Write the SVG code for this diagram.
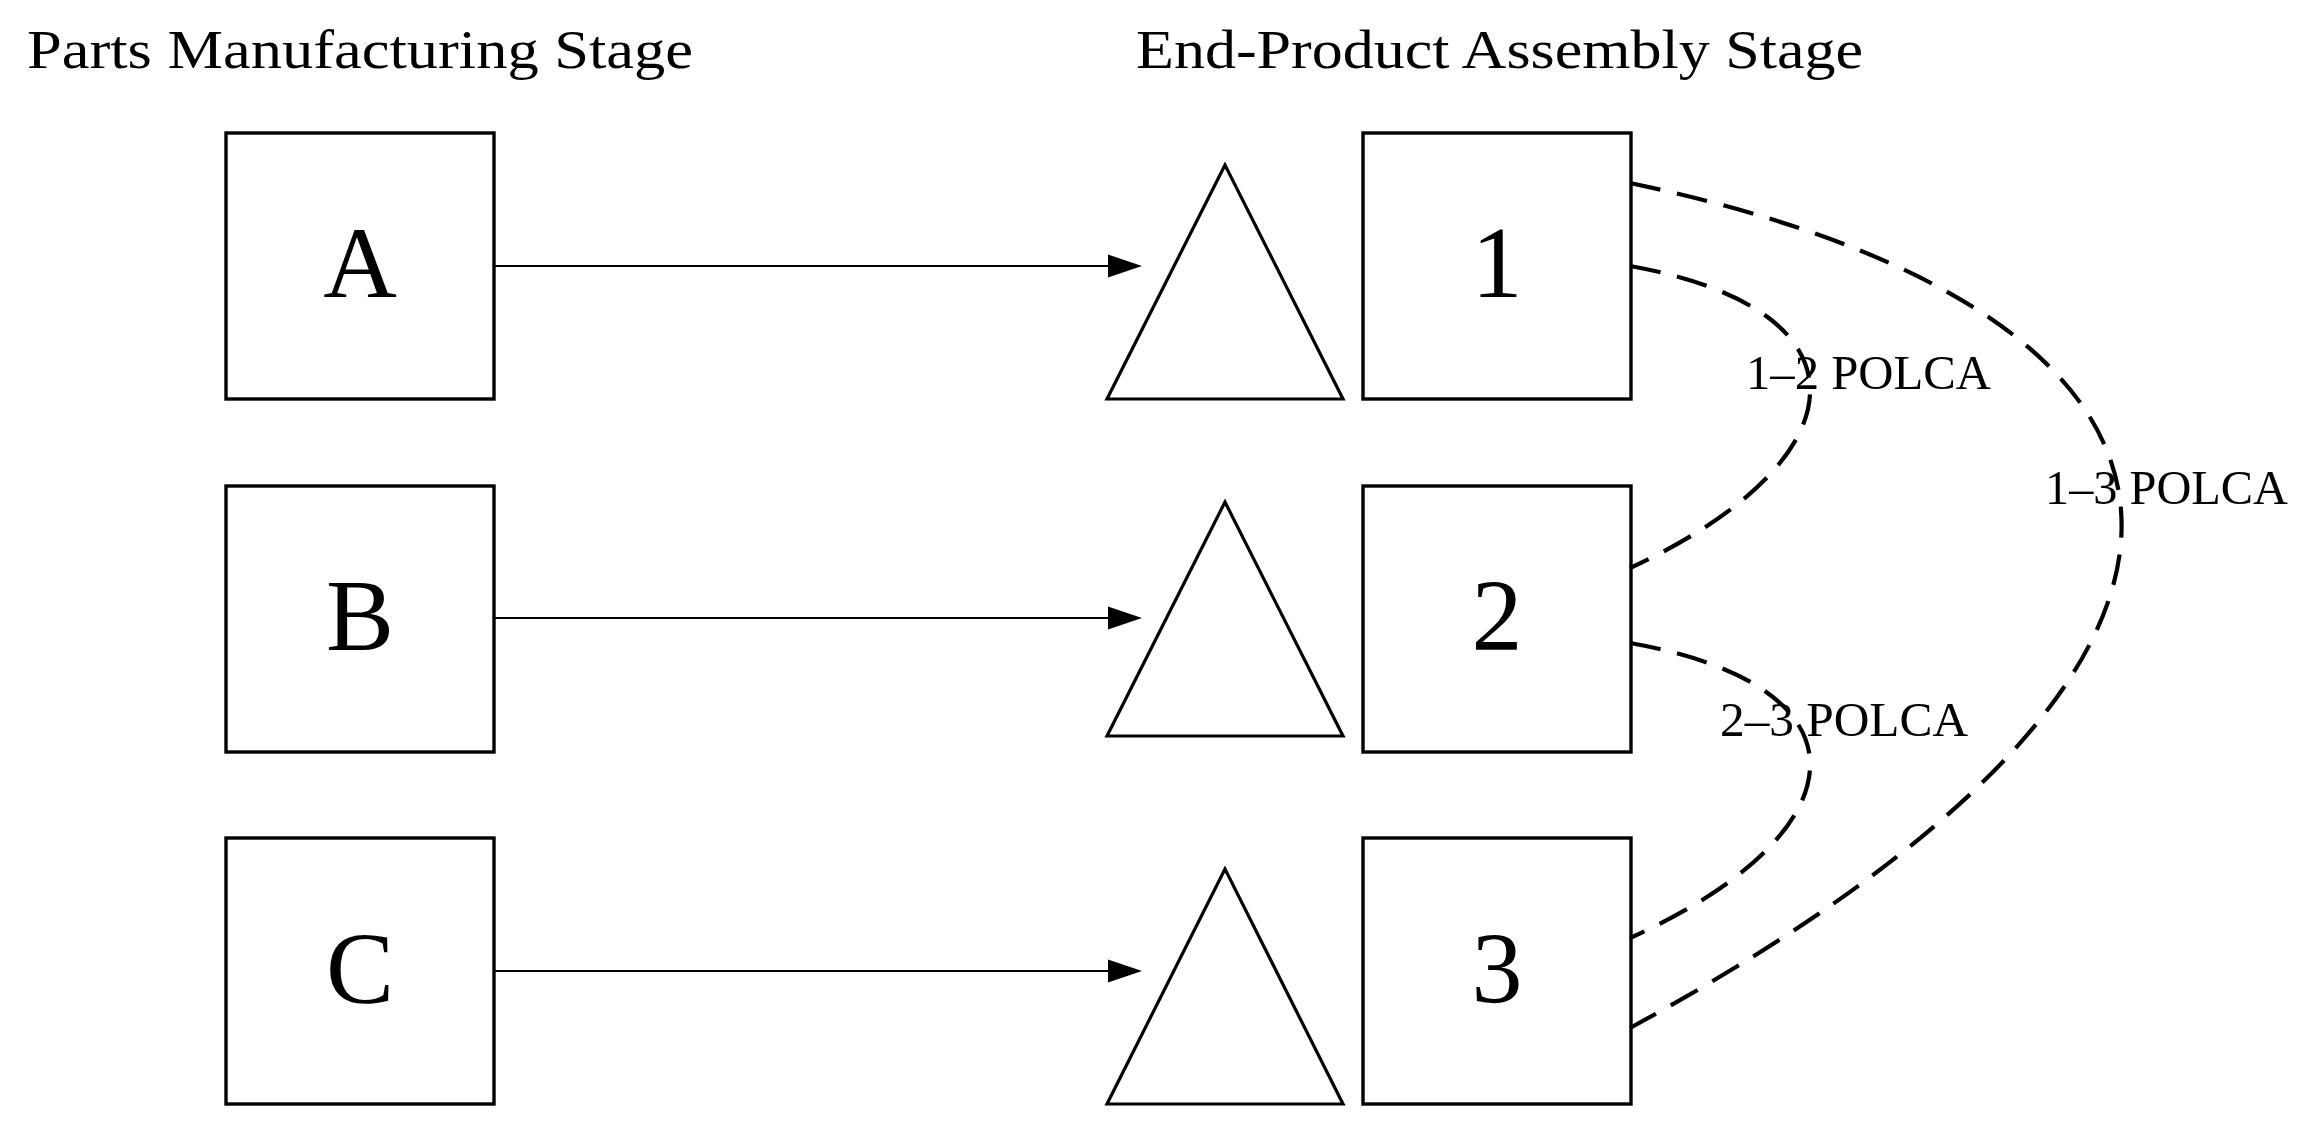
<svg xmlns="http://www.w3.org/2000/svg" width="2316" height="1142" viewBox="0 0 2316 1142">
<style>
  .box { fill: #fff; stroke: #000; stroke-width: 3.4; }
  .tri { fill: #fff; stroke: #000; stroke-width: 3.2; stroke-linejoin: miter; }
  .big { font-family: "Liberation Serif", "Times New Roman", serif; font-size: 102px; fill: #000; text-anchor: middle; }
  .title { font-family: "Liberation Serif", "Times New Roman", serif; font-size: 54px; fill: #000; }
  .lbl { font-family: "Liberation Serif", "Times New Roman", serif; font-size: 49px; fill: #000; }
  .arrow { stroke: #000; stroke-width: 2.2; fill: none; }
  .polca { stroke: #000; stroke-width: 4.2; fill: none; stroke-dasharray: 31 17; stroke-linecap: butt; }
</style>
<defs>
  <marker id="ah" markerUnits="userSpaceOnUse" markerWidth="34" markerHeight="23" refX="0" refY="11.5" orient="auto" overflow="visible">
    <path d="M0,0 L34,11.5 L0,23 z" fill="#000"/>
  </marker>
</defs>
<rect width="2316" height="1142" fill="#fff"/>

<g id="titles">
  <text class="title" x="27" y="68" textLength="666" lengthAdjust="spacingAndGlyphs">Parts Manufacturing Stage</text>
  <text class="title" x="1136" y="68" textLength="727" lengthAdjust="spacingAndGlyphs">End-Product Assembly Stage</text>
</g>

<g id="node-A"><rect class="box" x="226" y="133" width="268" height="266"/><text class="big" x="360" y="297">A</text></g>
<g id="node-B"><rect class="box" x="226" y="486" width="268" height="266"/><text class="big" x="360" y="650">B</text></g>
<g id="node-C"><rect class="box" x="226" y="838" width="268" height="266"/><text class="big" x="360" y="1003">C</text></g>

<g id="buffer-1"><polygon class="tri" points="1225,165 1107,399 1343,399"/></g>
<g id="buffer-2"><polygon class="tri" points="1225,502 1107,736 1343,736"/></g>
<g id="buffer-3"><polygon class="tri" points="1225,869 1107,1104 1343,1104"/></g>

<g id="node-1"><rect class="box" x="1363" y="133" width="268" height="266"/><text class="big" x="1497" y="297">1</text></g>
<g id="node-2"><rect class="box" x="1363" y="486" width="268" height="266"/><text class="big" x="1497" y="650">2</text></g>
<g id="node-3"><rect class="box" x="1363" y="838" width="268" height="266"/><text class="big" x="1497" y="1003">3</text></g>

<g id="connectors">
  <line class="arrow" x1="495" y1="266" x2="1108" y2="266" marker-end="url(#ah)"/>
  <line class="arrow" x1="495" y1="618" x2="1108" y2="618" marker-end="url(#ah)"/>
  <line class="arrow" x1="495" y1="971" x2="1108" y2="971" marker-end="url(#ah)"/>

  <path id="polca-1-2" class="polca" d="M1630,266 C1880,311 1860,462 1630,568"/>
  <path id="polca-2-3" class="polca" d="M1630,643 C1880,687 1860,834.5 1630,938"/>
  <path id="polca-1-3" class="polca" d="M1630,183 C2250,313 2320,653 1630,1028"/>

  <text class="lbl" x="1746" y="389" textLength="245" lengthAdjust="spacingAndGlyphs">1–2 POLCA</text>
  <text class="lbl" x="1720" y="736" textLength="248" lengthAdjust="spacingAndGlyphs">2–3 POLCA</text>
  <text class="lbl" x="2045" y="504" textLength="243" lengthAdjust="spacingAndGlyphs">1–3 POLCA</text>
</g>
</svg>
